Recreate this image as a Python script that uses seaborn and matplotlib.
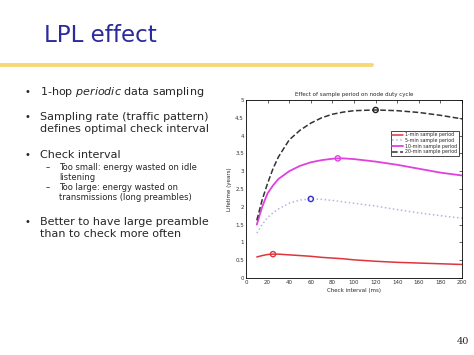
import pandas as pd
import seaborn as sns
import matplotlib.pyplot as plt

# curve data
check_ms = [10, 15, 20, 25, 30, 40, 50, 60, 70, 80, 85, 90, 100, 120, 140, 160, 180, 200]
life_1min = [0.59, 0.63, 0.66, 0.67, 0.67, 0.65, 0.63, 0.61, 0.58, 0.56, 0.55, 0.54, 0.51, 0.47, 0.44, 0.42, 0.40, 0.38]
life_5min = [1.26, 1.50, 1.70, 1.83, 1.94, 2.10, 2.19, 2.22, 2.21, 2.18, 2.16, 2.14, 2.10, 2.02, 1.92, 1.83, 1.75, 1.68]
life_10min = [1.50, 2.00, 2.38, 2.60, 2.78, 3.00, 3.15, 3.25, 3.31, 3.35, 3.36, 3.36, 3.34, 3.27, 3.18, 3.07, 2.96, 2.88]
life_20min = [1.62, 2.20, 2.66, 3.07, 3.40, 3.88, 4.15, 4.35, 4.50, 4.60, 4.63, 4.66, 4.70, 4.72, 4.70, 4.65, 4.57, 4.47]
series_names = ["1-min sample period", "5-min sample period", "10-min sample period", "20-min sample period"]
peak_x = [25, 60, 85, 120]
peak_y = [0.67, 2.22, 3.36, 4.72]

bullets = [
    (92, "1-hop $\\it{periodic}$ data sampling"),
    (117, "Sampling rate (traffic pattern)"),
    (129, "defines optimal check interval"),
    (155, "Check interval"),
    (222, "Better to have large preamble"),
    (234, "than to check more often"),
]
sub_bullets = [
    (168, "Too small: energy wasted on idle"),
    (177, "listening"),
    (188, "Too large: energy wasted on"),
    (198, "transmissions (long preambles)"),
]

sns.set_style("white")
W, H = 474, 355
fig = plt.figure(figsize=(W / 100, H / 100), dpi=100)
fig.patch.set_facecolor("white")

def px(x, y):
    return x / W, 1 - y / H

# slide title + rule
fig.text(*px(44, 36), "LPL effect", color="#2b2b9c", fontsize=16.6, va="center", ha="left")
fig.add_artist(plt.Line2D([0, 372 / W], [1 - 65 / H] * 2, color="#f7d877", lw=2.8))

for y, t in bullets:
    if not t.startswith("defines") and not t.startswith("than"):
        fig.text(*px(27, y), "\u2022", fontsize=7, va="center", ha="center")
    fig.text(*px(40, y), t, fontsize=8, va="center", ha="left")
for y, t in sub_bullets:
    if t.startswith("Too"):
        fig.text(*px(48, y), "\u2013", fontsize=6, va="center", ha="center")
    fig.text(*px(59, y), t, fontsize=6, va="center", ha="left")

fig.text(*px(463, 341), "40", fontsize=7, family="DejaVu Serif", va="center", ha="center")

# embedded matlab-style chart
ax = fig.add_axes([246 / W, 1 - 278 / H, (462 - 246) / W, (278 - 100) / H])
df = pd.DataFrame({"x": check_ms * 4,
                   "y": life_1min + life_5min + life_10min + life_20min,
                   "series": sum([[n] * len(check_ms) for n in series_names], [])})
colors = ["#e0343c", "#b4b4e6", "#e040e0", "#333333"]
styles = ["-", ":", "-", "--"]
widths = [1.1, 1.1, 1.3, 1.1]
for name, c, ls, lw in zip(series_names, colors, styles, widths):
    sns.lineplot(data=df[df.series == name], x="x", y="y", ax=ax, color=c,
                 linestyle=ls, lw=lw, label=name)
marker_cols = ["#e0343c", "#3030d0", "#e040e0", "#222222"]
sns.scatterplot(x=peak_x, y=peak_y, ax=ax, marker="o", s=14, facecolor="none",
                edgecolor=marker_cols, linewidth=1.0, zorder=5)

ax.set_xlim(0, 200)
ax.set_ylim(0, 5)
ax.set_xticks(range(0, 201, 20))
ax.set_yticks([0, 0.5, 1, 1.5, 2, 2.5, 3, 3.5, 4, 4.5, 5])
ax.set_yticklabels(["0", "0.5", "1", "1.5", "2", "2.5", "3", "3.5", "4", "4.5", "5"])
ax.tick_params(direction="in", length=2, width=0.5, labelsize=4, pad=1.5,
               top=True, right=True, labelcolor="#333333")
for s in ax.spines.values():
    s.set_linewidth(0.6)
    s.set_color("black")
ax.set_title("Effect of sample period on node duty cycle", fontsize=4, pad=3)
ax.set_xlabel("Check interval (ms)", fontsize=4, labelpad=2)
ax.set_ylabel("Lifetime (years)", fontsize=4, labelpad=2)
leg = ax.legend(loc="upper right", bbox_to_anchor=(0.995, 0.84), fontsize=3.4,
                frameon=True, fancybox=False, edgecolor="black", framealpha=1,
                handlelength=2.2, borderpad=0.3, labelspacing=0.15, handletextpad=0.5)
leg.get_frame().set_linewidth(0.5)

fig.savefig("out.png", dpi=100)
